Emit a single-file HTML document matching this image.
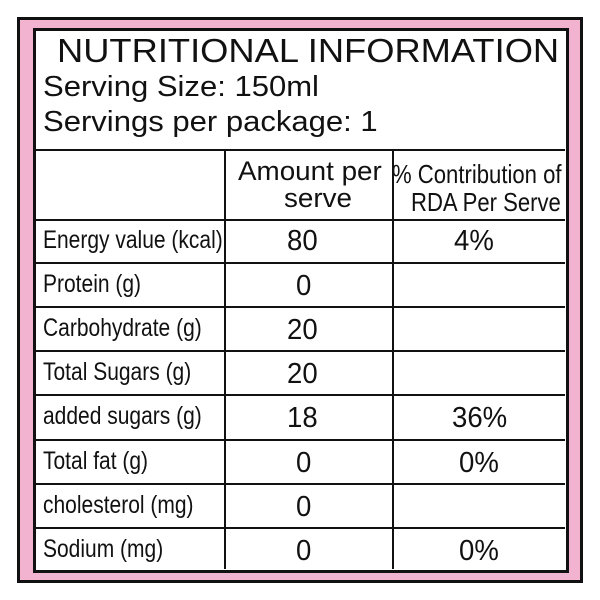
<!DOCTYPE html>
<html><head><style>
body{margin:0;width:600px;height:600px;background:#fff;position:relative;overflow:hidden;font-family:"Liberation Sans",sans-serif;color:#111}
.outer{position:absolute;left:17px;top:17px;width:560px;height:560px;border:3px solid #111;background:#f2b3d0}
.inner{position:absolute;left:33px;top:28px;width:530px;height:539px;border:3px solid #111;background:#fff}
.t{position:absolute;white-space:nowrap;transform-origin:0 0}
.h{position:absolute;background:#111;height:2px}
.v{position:absolute;background:#111;width:2px}
</style></head><body>
<div class="outer"></div>
<div class="inner"></div>
<div class="t" style="left:57px;top:32px;font-size:33px;transform:scaleX(1.1)">NUTRITIONAL INFORMATION</div>
<div class="t" style="left:43px;top:71px;font-size:29px;transform:scaleX(1.07)">Serving Size: 150ml</div>
<div class="t" style="left:43px;top:106px;font-size:29px;transform:scaleX(1.07)">Servings per package: 1</div>
<div class="h" style="left:35px;top:149px;width:530px"></div>
<div class="h" style="left:35px;top:219px;width:530px"></div>
<div class="h" style="left:35px;top:262px;width:530px"></div>
<div class="h" style="left:35px;top:306px;width:530px"></div>
<div class="h" style="left:35px;top:350px;width:530px"></div>
<div class="h" style="left:35px;top:394px;width:530px"></div>
<div class="h" style="left:35px;top:439px;width:530px"></div>
<div class="h" style="left:35px;top:483px;width:530px"></div>
<div class="h" style="left:35px;top:527px;width:530px"></div>
<div class="v" style="left:224px;top:149px;height:420px"></div>
<div class="v" style="left:392px;top:149px;height:420px"></div>
<div class="t" style="left:238px;top:156px;font-size:27px;transform:scaleX(1.03)">Amount per</div>
<div class="t" style="left:284px;top:183px;font-size:27px;transform:scaleX(1.03)">serve</div>
<div class="t" style="left:392px;top:159px;font-size:26px;transform:scaleX(0.85)">% Contribution of</div>
<div class="t" style="left:411px;top:187px;font-size:26px;transform:scaleX(0.85)">RDA Per Serve</div>
<div class="t" style="left:43px;top:226px;font-size:25px;transform:scaleX(0.84)">Energy value (kcal)</div>
<div class="t" style="left:43px;top:270px;font-size:25px;transform:scaleX(0.84)">Protein (g)</div>
<div class="t" style="left:43px;top:314px;font-size:25px;transform:scaleX(0.84)">Carbohydrate (g)</div>
<div class="t" style="left:43px;top:358px;font-size:25px;transform:scaleX(0.84)">Total Sugars (g)</div>
<div class="t" style="left:43px;top:402px;font-size:25px;transform:scaleX(0.84)">added sugars (g)</div>
<div class="t" style="left:43px;top:447px;font-size:25px;transform:scaleX(0.84)">Total fat (g)</div>
<div class="t" style="left:43px;top:491px;font-size:25px;transform:scaleX(0.84)">cholesterol (mg)</div>
<div class="t" style="left:43px;top:535px;font-size:25px;transform:scaleX(0.84)">Sodium (mg)</div>
<div class="t" style="left:287px;top:225px;font-size:29px;transform:scaleX(0.95)">80</div>
<div class="t" style="left:296px;top:270px;font-size:29px;transform:scaleX(0.95)">0</div>
<div class="t" style="left:287px;top:314px;font-size:29px;transform:scaleX(0.95)">20</div>
<div class="t" style="left:287px;top:358px;font-size:29px;transform:scaleX(0.95)">20</div>
<div class="t" style="left:287px;top:402px;font-size:29px;transform:scaleX(0.95)">18</div>
<div class="t" style="left:296px;top:447px;font-size:29px;transform:scaleX(0.95)">0</div>
<div class="t" style="left:296px;top:491px;font-size:29px;transform:scaleX(0.95)">0</div>
<div class="t" style="left:296px;top:535px;font-size:29px;transform:scaleX(0.95)">0</div>
<div class="t" style="left:454px;top:225px;font-size:29px;transform:scaleX(0.95)">4%</div>
<div class="t" style="left:452px;top:402px;font-size:29px;transform:scaleX(0.95)">36%</div>
<div class="t" style="left:459px;top:447px;font-size:29px;transform:scaleX(0.95)">0%</div>
<div class="t" style="left:459px;top:535px;font-size:29px;transform:scaleX(0.95)">0%</div>
</body></html>
